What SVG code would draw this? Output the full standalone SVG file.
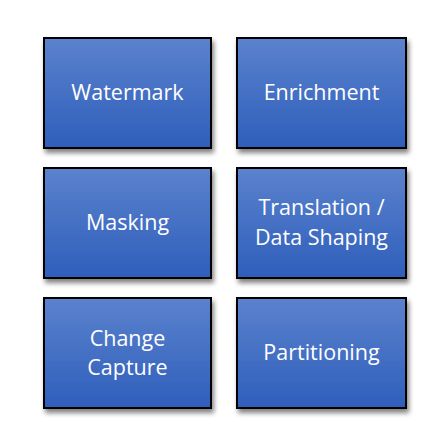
<svg xmlns="http://www.w3.org/2000/svg" width="440" height="440" viewBox="0 0 440 440">
<defs>
<linearGradient id="g" x1="0" y1="0" x2="0" y2="1">
<stop offset="0" stop-color="#5b82cd"/>
<stop offset="1" stop-color="#2e5ebb"/>
</linearGradient>
<filter id="sh" x="-10%" y="-10%" width="130%" height="130%">
<feGaussianBlur in="SourceAlpha" stdDeviation="2.5"/>
<feOffset dx="2" dy="4" result="b"/>
<feComponentTransfer><feFuncA type="linear" slope="0.5"/></feComponentTransfer>
<feMerge><feMergeNode/><feMergeNode in="SourceGraphic"/></feMerge>
</filter>
</defs>
<style>
.box{fill:url(#g);stroke:#000;stroke-width:2;filter:url(#sh)}
.t{fill:#fff;font-family:"Open Sans","Noto Sans",sans-serif;font-size:21.5px;text-anchor:middle}
</style>
<rect width="440" height="440" fill="#fff"/>
<g id="connectors"/>
<g id="watermark"><rect class="box" x="44" y="38" width="167" height="110"/><text class="t" x="127.5" y="100">Watermark</text></g>
<g id="enrichment"><rect class="box" x="237" y="38" width="169" height="110"/><text class="t" x="321.5" y="100">Enrichment</text></g>
<g id="masking"><rect class="box" x="44" y="168" width="167" height="110"/><text class="t" x="127.5" y="230">Masking</text></g>
<g id="translation"><rect class="box" x="237" y="168" width="169" height="110"/><text class="t" x="321.5" y="215">Translation /</text><text class="t" x="321.5" y="245">Data Shaping</text></g>
<g id="change-capture"><rect class="box" x="44" y="298" width="167" height="110"/><text class="t" x="127.5" y="346">Change</text><text class="t" x="127.5" y="375">Capture</text></g>
<g id="partitioning"><rect class="box" x="237" y="298" width="169" height="110"/><text class="t" x="321.5" y="360">Partitioning</text></g>
</svg>
